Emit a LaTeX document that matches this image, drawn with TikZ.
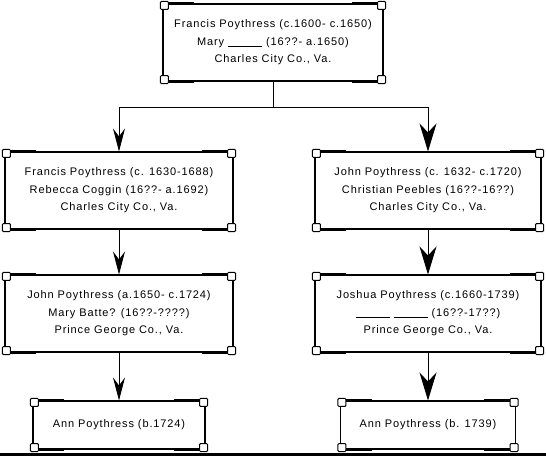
\documentclass[tikz,border=0pt]{standalone}
\usepackage{fontspec}
\newfontfamily\visfont{Liberation Sans}[LetterSpace=8]
\usetikzlibrary{arrows.meta}
\tikzset{
  famboxstyle/.style={draw=black, line width=1.1pt, inner sep=0pt, align=center,
    font=\visfont\fontsize{11}{17.5}\selectfont},
  connline/.style={draw=black, line width=0.8pt},
  arrsmall/.style={connline, -{Stealth[length=23pt,width=12pt,inset=8pt]}},
  arrbig/.style={connline, -{Stealth[length=28pt,width=17pt,inset=9pt]}},
  thickseg/.style={line width=2.2pt, line cap=butt},
  cornersq/.style={draw=black, line width=1pt, fill=white, rounded corners=1pt}
}
\newcommand{\blankline}{\rule[-1pt]{34pt}{0.7pt}}
\begin{document}
\begin{tikzpicture}[x=1pt,y=-1pt]
\useasboundingbox (0,0) rectangle (546,456);
\fill[black] (0,453) rectangle (546,456);

\node[famboxstyle, minimum width=220pt, minimum height=77pt] (top) at (273,42.5)
  {Francis Poythress (c.1600- c.1650)\\Mary \blankline\ (16??- a.1650)\\Charles City Co., Va.};
\node[famboxstyle, minimum width=228pt, minimum height=77pt] (L2) at (119,190.5)
  {Francis Poythress (c. 1630-1688)\\Rebecca Coggin (16??- a.1692)\\Charles City Co., Va.};
\node[famboxstyle, minimum width=226pt, minimum height=77pt] (R2) at (428,190.5)
  {John Poythress (c. 1632- c.1720)\\Christian Peebles (16??-16??)\\Charles City Co., Va.};
\node[famboxstyle, minimum width=228pt, minimum height=77pt] (L3) at (119,313.5)
  {John Poythress (a.1650- c.1724)\\Mary Batte? (16??-????)\\Prince George Co., Va.};
\node[famboxstyle, minimum width=226pt, minimum height=77pt] (R3) at (428,313.5)
  {Joshua Poythress (c.1660-1739)\\\blankline\ \blankline\ (16??-17??)\\Prince George Co., Va.};
\node[famboxstyle, minimum width=172pt, minimum height=48pt] (L4) at (119,425)
  {Ann Poythress (b.1724)};
\node[famboxstyle, minimum width=175pt, minimum height=48pt] (R4) at (428,425)
  {Ann Poythress (b. 1739)};

\foreach \n in {top,L2,R2,L3,R3,L4,R4}{
  \draw[thickseg] (\n.north west) -- ([xshift=32pt]\n.north west);
  \draw[thickseg] (\n.north east) -- ([xshift=-32pt]\n.north east);
  \draw[thickseg] (\n.south west) -- ([xshift=32pt]\n.south west);
  \draw[thickseg] (\n.south east) -- ([xshift=-32pt]\n.south east);
  \draw[cornersq] ([shift={(-2pt,2pt)}]\n.north west) rectangle ([shift={(6pt,-6pt)}]\n.north west);
  \draw[cornersq] ([shift={(2pt,2pt)}]\n.north east) rectangle ([shift={(-6pt,-6pt)}]\n.north east);
  \draw[cornersq] ([shift={(-2pt,-2pt)}]\n.south west) rectangle ([shift={(6pt,6pt)}]\n.south west);
  \draw[cornersq] ([shift={(2pt,-2pt)}]\n.south east) rectangle ([shift={(-6pt,6pt)}]\n.south east);
}

\coordinate (junc) at (273,107);
\draw[connline] (top.south) -- (junc);
\draw[arrsmall] (junc) -| (L2.north);
\draw[arrbig] (junc) -| (R2.north);
\draw[arrsmall] (L2.south) -- (L3.north);
\draw[arrbig] (R2.south) -- (R3.north);
\draw[arrsmall] (L3.south) -- (L4.north);
\draw[arrbig] (R3.south) -- (R4.north);
\end{tikzpicture}
\end{document}
